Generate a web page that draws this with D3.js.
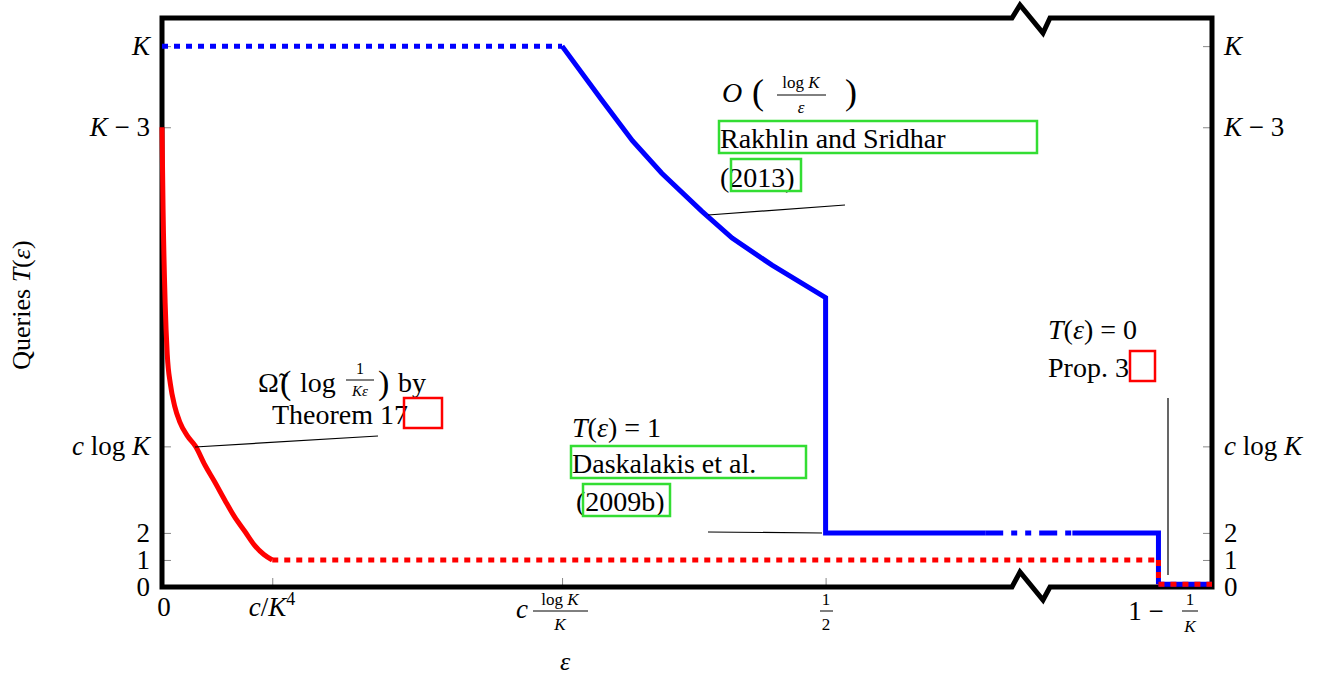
<!DOCTYPE html>
<html><head><meta charset="utf-8">
<script src="https://cdn.jsdelivr.net/npm/d3@7"></script>
<style>body{margin:0;background:#fff}svg{font-family:"Liberation Serif",serif}</style>
</head><body><svg id="c" width="1318" height="678"></svg>
<script>
// abstract axis units
const xTickVals=[0,10.5,38.1,63.2,94.9];
const xTickLabels=["0","c/K⁴","clogK/K","1/2","1−1/K"];
const yTickVals=[0,1,2,5.2,17.0,20.0];
const yTickLabels=["0","1","2","c log K","K − 3","K"];
const redCurveX=[0,0.1,0.3,0.5,0.8,1.2,1.7,2.4,3.2,4.1,5.0,6.0,6.9,7.9,8.8,9.7,10.5];
const redCurveY=[17.0,14,10.5,8.6,7.5,6.7,6.1,5.6,5.2,4.5,3.9,3.2,2.6,2.05,1.55,1.2,1.0];
const redFlatX=[10.5,94.9];const redFlatY=[1,1];
const blueDotX=[0,38.1];const blueDotY=[20,20];
const blueCurveX=[38.1,41.9,44.8,47.6,51.4,54.3,58.1,63.2,63.2,78.4];
const blueCurveY=[20,18,16.5,15.3,13.9,12.9,11.9,10.7,2,2];
const blueDashX=[78.4,86.7];const blueDashY=[2,2];
const blueEndX=[86.7,94.9,94.9];const blueEndY=[2,2,0.1];
const zeroX=[94.9,100];const zeroY=[0.1,0.1];
const dropX=[94.9,94.9];const dropY=[1,0.1];

const svg=d3.select("#c");
const x=d3.scaleLinear().domain([0,100]).range([162,1212]);
const y=d3.scaleLinear().domain([0,21.04]).range([587,18]);
const line=d3.line().curve(d3.curveLinear).x(d=>x(d[0])).y(d=>y(d[1]));
const z=(a,b)=>a.map((v,i)=>[v,b[i]]);
function path(xs,ys,col,dash,w=5,cv){const l=cv?d3.line().curve(d3.curveMonotoneX).x(d=>x(d[0])).y(d=>y(d[1])):line;svg.append("path").attr("d",l(z(xs,ys))).attr("fill","none").attr("stroke",col).attr("stroke-width",w).attr("stroke-dasharray",dash||null);}

const tk=g=>{g.select(".domain").remove();g.selectAll("line").attr("stroke","#888");};
svg.append("g").attr("transform","translate(162,0)").call(d3.axisLeft(y).tickValues(yTickVals).tickFormat("").tickSize(-9)).call(tk);
svg.append("g").attr("transform","translate(1212,0)").call(d3.axisRight(y).tickValues(yTickVals).tickFormat("").tickSize(-9)).call(tk);
svg.append("g").attr("transform","translate(0,587)").call(d3.axisBottom(x).tickValues(xTickVals).tickFormat("").tickSize(-9)).call(tk);

// frame with break
const f=svg.append("g").attr("fill","none").attr("stroke","#000").attr("stroke-width",5);
f.append("path").attr("d","M162,18 L1012,18 L1020,5 L1043,33 L1050,18 L1212,18 L1212,587 L1050,587 L1043,600 L1020,572 L1012,587 L162,587 Z");

path(redCurveX,redCurveY,"red",null,5,true);
path(redFlatX,redFlatY,"red","6,6");
path(blueDotX,blueDotY,"blue","6,6");
path(blueCurveX,blueCurveY,"blue");
path(blueDashX,blueDashY,"blue","18,8,6,8,6,8");
path(blueEndX,blueEndY,"blue");
path(zeroX,zeroY,"blue",null);
path(zeroX,zeroY,"red","6,6");
path(dropX,dropY,"red","6,6");

const T=(tx,ty,s,anchor="middle",size=26)=>svg.append("text").attr("x",tx).attr("y",ty).attr("text-anchor",anchor).attr("font-size",size).html(s);
const yl=[["0"],["1"],["2"],["<tspan font-style='italic'>c</tspan> log <tspan font-style='italic'>K</tspan>"],["<tspan font-style='italic'>K</tspan> − 3"],["<tspan font-style='italic'>K</tspan>"]];
yTickVals.forEach((v,i)=>{const lab=yl[i][0];T(150,y(v)+9,lab,"end",27);T(1224,y(v)+9,lab,"start",27);});
T(164,616,"0","middle",27);
T(272,616,"<tspan font-style='italic'>c</tspan>/<tspan font-style='italic'>K</tspan><tspan dy='-11' font-size='18'>4</tspan>","middle",27);
T(522,618,"<tspan font-style='italic'>c</tspan>","middle",27);
T(560,605,"log <tspan font-style='italic'>K</tspan>","middle",17);
svg.append("line").attr("x1",533).attr("x2",588).attr("y1",611).attr("y2",611).attr("stroke","#000");
T(560,630,"<tspan font-style='italic'>K</tspan>","middle",17);
T(826,605,"1","middle",17);svg.append("line").attr("x1",820).attr("x2",833).attr("y1",611).attr("y2",611).attr("stroke","#000");T(826,630,"2","middle",17);
T(1146,620,"1 −","middle",27);T(1190,605,"1","middle",17);svg.append("line").attr("x1",1182).attr("x2",1198).attr("y1",611).attr("y2",611).attr("stroke","#000");T(1190,632,"<tspan font-style='italic'>K</tspan>","middle",17);
T(565,670,"<tspan font-style='italic'>ε</tspan>","middle",26);
svg.append("text").attr("transform","translate(30,305) rotate(-90)").attr("text-anchor","middle").attr("font-size",26).html("Queries <tspan font-style='italic'>T</tspan>(<tspan font-style='italic'>ε</tspan>)");

const L=(a,b,c,d)=>svg.append("line").attr("x1",a).attr("y1",b).attr("x2",c).attr("y2",d).attr("stroke","#000").attr("stroke-width",1.2);
const box=(a,b,w,h,col)=>svg.append("rect").attr("x",a).attr("y",b).attr("width",w).attr("height",h).attr("fill","none").attr("stroke",col).attr("stroke-width",2.5);
L(708,215,845,205);
T(722,102,"<tspan font-style='italic'>O</tspan>","start",28);
T(752,104,"(","start",36);
T(801,88,"log <tspan font-style='italic'>K</tspan>","middle",17);svg.append("line").attr("x1",777).attr("x2",826).attr("y1",95).attr("y2",95).attr("stroke","#000");T(801,113,"<tspan font-style='italic'>ε</tspan>","middle",17);
T(845,104,")","start",36);
T(720,148,"Rakhlin and Sridhar","start",28);box(719,121,318,32,"#3d3");
T(720,187,"(2013)","start",28);box(731,159,70,32,"#3d3");
L(195,447,378,436);
T(258,392,"Ω̃","start",28);T(280,394,"(","start",34);T(300,392,"log","start",28);
T(360,374,"1","middle",16);svg.append("line").attr("x1",346).attr("x2",374).attr("y1",380).attr("y2",380).attr("stroke","#000");T(360,396,"<tspan font-style='italic'>Kε</tspan>","middle",15);
T(378,394,")","start",34);T(398,392,"by","start",28);
T(272,424,"Theorem 17","start",28);box(404,398,38,30,"red");
L(708,532,822,533);
T(572,437,"<tspan font-style='italic'>T</tspan>(<tspan font-style='italic'>ε</tspan>)  =  1","start",28);
T(572,473,"Daskalakis et al.","start",28);box(571,446,235,32,"#3d3");
T(576,511,"(2009b)","start",28);box(583,484,87,32,"#3d3");
L(1168,398,1168,575);
T(1048,339,"<tspan font-style='italic'>T</tspan>(<tspan font-style='italic'>ε</tspan>) = 0","start",28);
T(1048,377,"Prop. 3","start",28);box(1130,351,25,30,"red");
</script></body></html>
